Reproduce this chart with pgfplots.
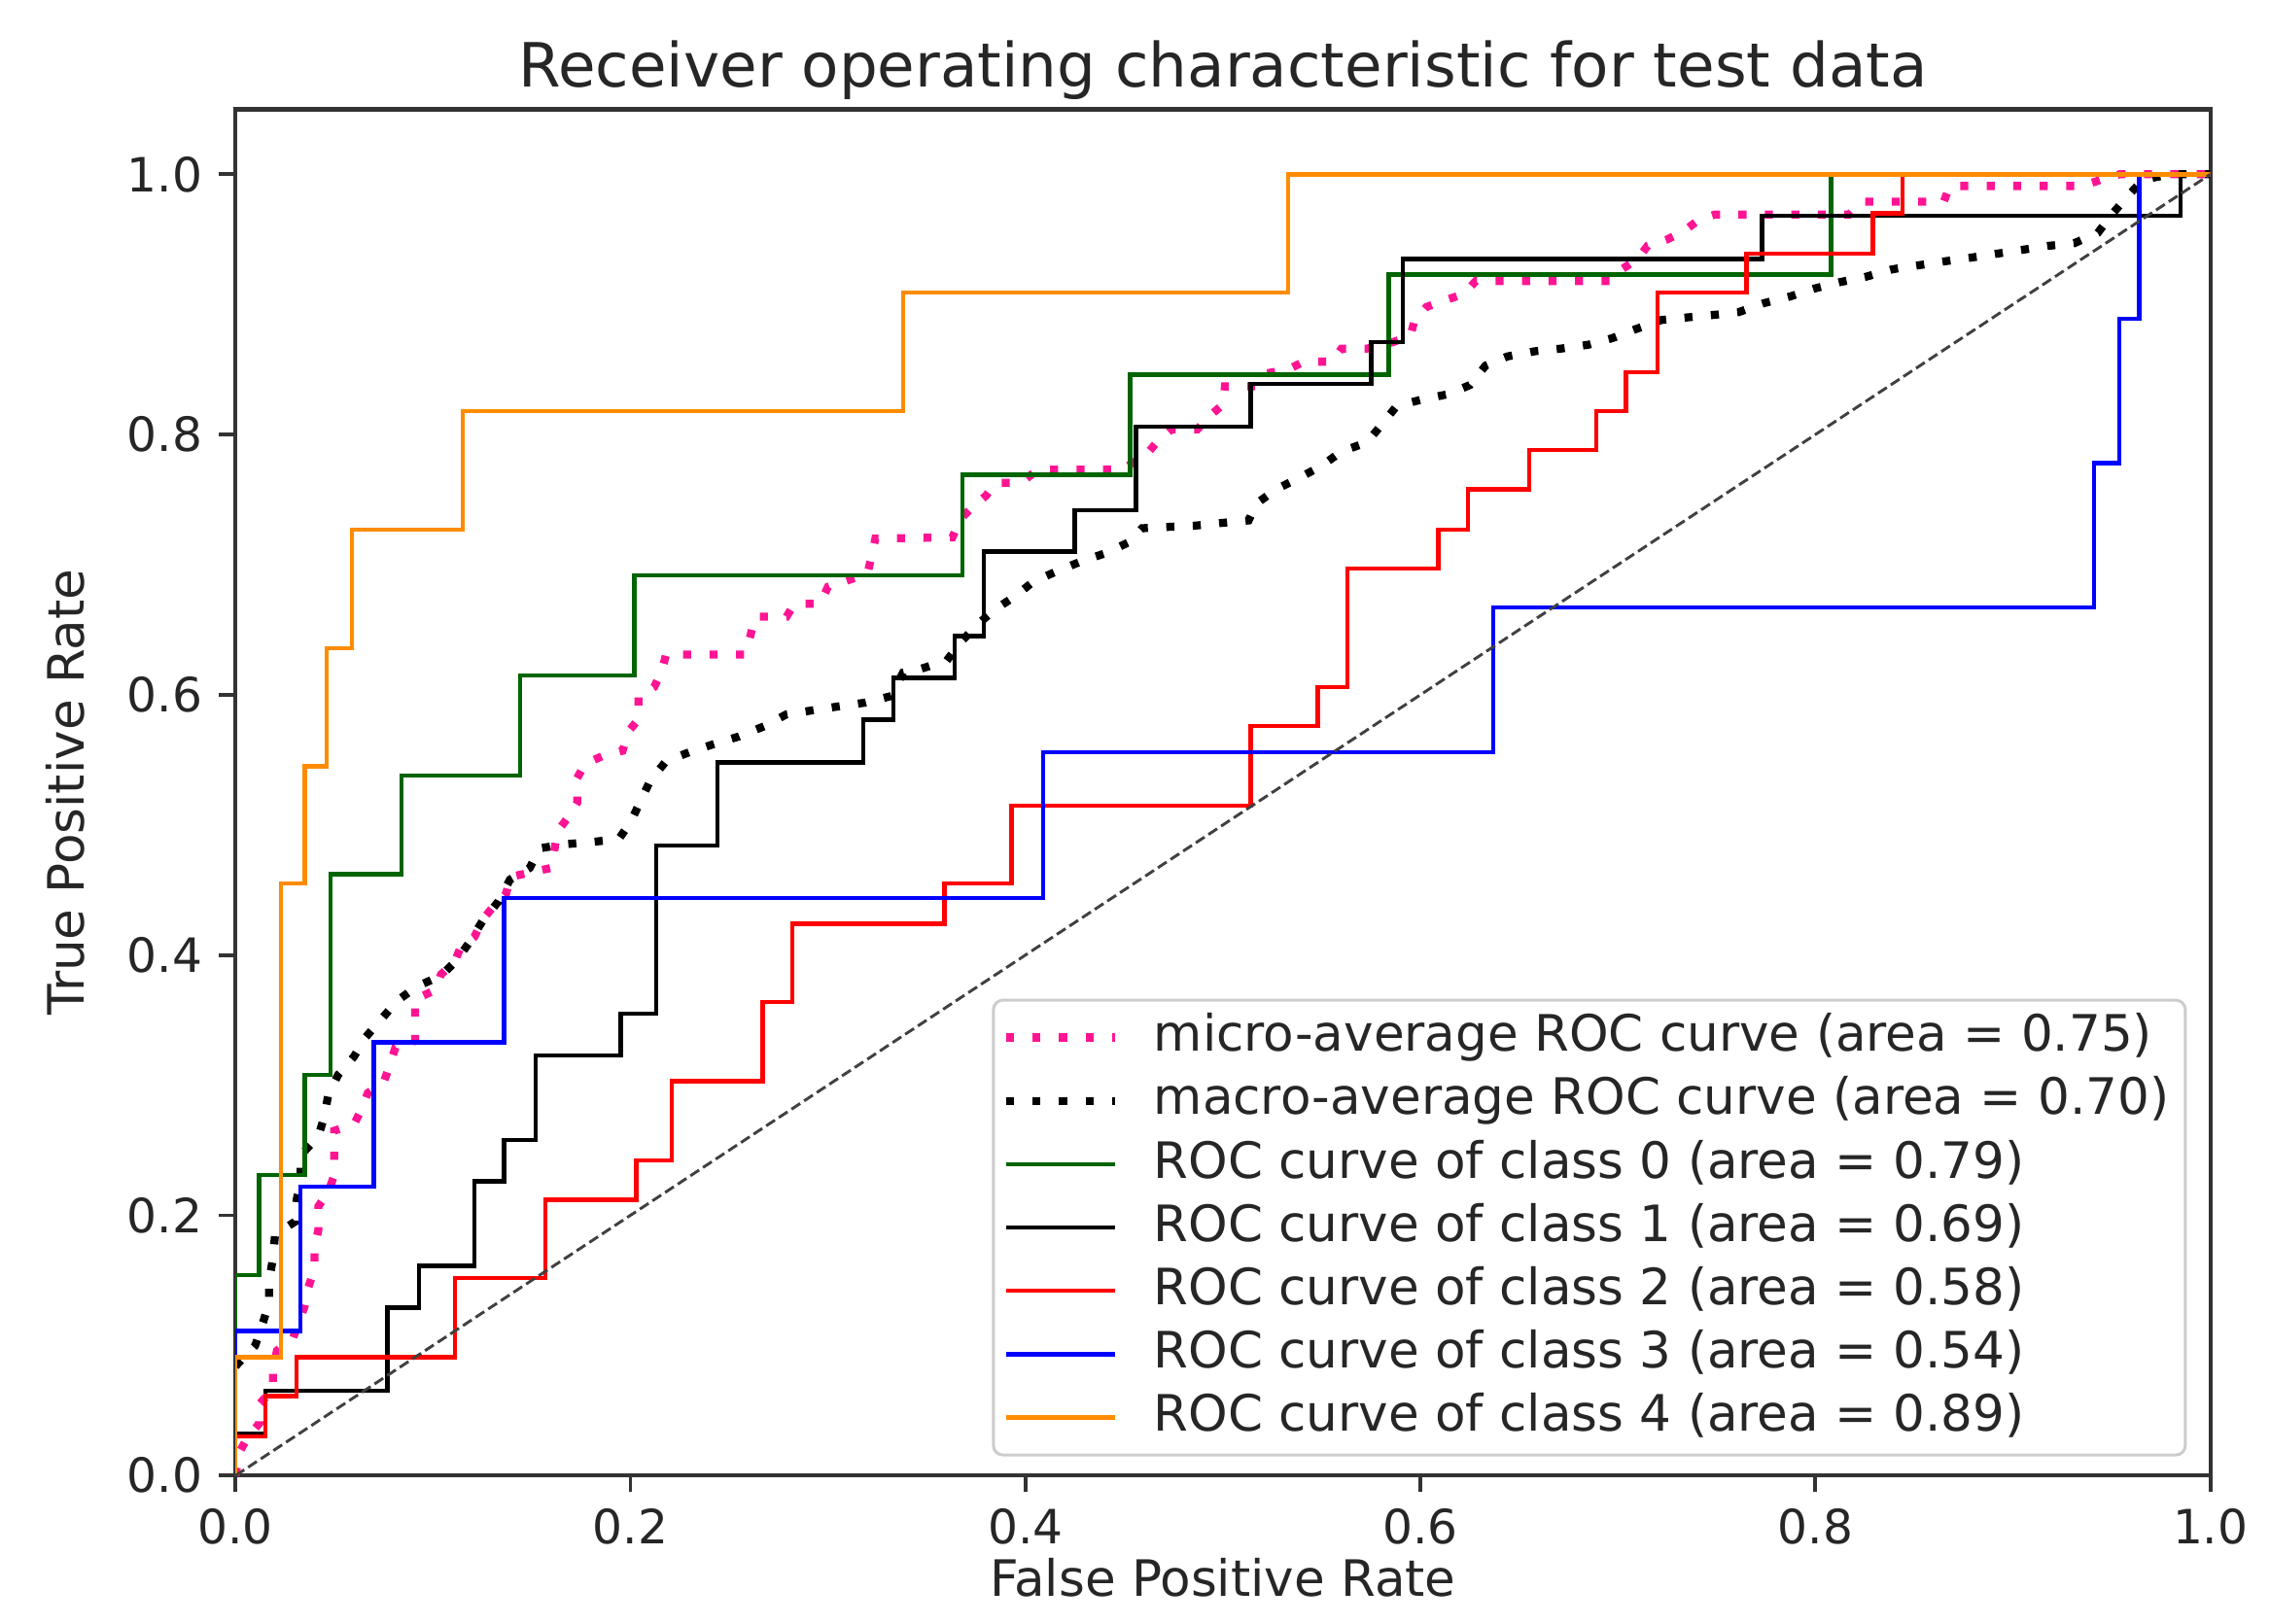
\documentclass[border=0pt]{standalone}
\usepackage{pgfplots}
\pgfplotsset{compat=1.18}
\usepackage{fontspec}
\setmainfont{DejaVu Sans}
\usetikzlibrary{calc}

\definecolor{deeppink}{HTML}{FF1493}
\definecolor{darkgreen}{HTML}{006400}
\definecolor{darkorange}{HTML}{FF8C00}
\definecolor{framegray}{HTML}{333333}
\definecolor{legendgray}{HTML}{CCCCCC}

\begin{document}
\begin{tikzpicture}
\begin{axis}[
    name=ax,
    scale only axis,
    width=417.6pt, height=289pt,
    xmin=0, xmax=1, ymin=0, ymax=1.05,
    xtick={0,0.2,0.4,0.6,0.8,1.0},
    ytick={0,0.2,0.4,0.6,0.8,1.0},
    tick align=outside,
    xtick pos=bottom, ytick pos=left,
    major tick length=3.5pt,
    every tick/.style={framegray, line width=0.8pt},
    axis line style={framegray, line width=0.9pt},
    /pgf/number format/assume math mode=true,
    /pgf/number format/.cd, fixed, fixed zerofill, precision=1,
    /pgfplots/.cd,
    ticklabel style={font=\fontsize{10}{12}\selectfont, text=black!85},
    title={Receiver operating characteristic for test data},
    every axis title shift=0pt,
    title style={at={(axis description cs:0.5,1)}, anchor=base, yshift=4.8pt,
                 font=\fontsize{12.9}{15}\selectfont, text=black!85},
    xlabel={False Positive Rate},
    xlabel style={at={(axis description cs:0.5,0)}, anchor=base, yshift=-25.5pt,
                  font=\fontsize{10.6}{12}\selectfont, text=black!85},
    ylabel={True Positive Rate},
    ylabel style={at={(axis description cs:-0.0766,0.5)}, anchor=base, rotate=0,
                  font=\fontsize{10.6}{12}\selectfont, text=black!85},
    legend cell align=left,
    legend style={at={(0.988,0.014)}, anchor=south east,
                  draw=legendgray, fill=white, fill opacity=0.8, text opacity=1,
                  rounded corners=2pt, line width=0.6pt,
                  font=\fontsize{10.6}{12}\selectfont, text=black!85,
                  nodes={text height=8pt, text depth=2.2pt, inner sep=1.6pt},
                  row sep=0pt, inner xsep=1.8pt, inner ysep=1.2pt},
    legend image code/.code={\draw[#1] (0pt,0pt) -- (23pt,0pt); \path (28.8pt,0pt);},
]

% micro-average
\addplot[deeppink, line width=1.7pt, dash pattern=on 1.7pt off 3.9pt] coordinates {
(0,0) (0.002,0.018) (0.006,0.029) (0.012,0.04) (0.012,0.055) (0.019,0.066)
(0.019,0.082) (0.021,0.096) (0.029,0.105) (0.035,0.13) (0.037,0.145) (0.04,0.159)
(0.04,0.176) (0.042,0.189) (0.042,0.207) (0.047,0.218) (0.05,0.231) (0.05,0.265)
(0.06,0.27) (0.064,0.282) (0.067,0.294) (0.075,0.302) (0.078,0.315) (0.081,0.329)
(0.091,0.334) (0.091,0.366) (0.101,0.373) (0.104,0.385) (0.111,0.395) (0.114,0.406)
(0.121,0.414) (0.125,0.427) (0.131,0.438) (0.137,0.447) (0.139,0.46) (0.16,0.467)
(0.163,0.495) (0.169,0.507) (0.173,0.517) (0.173,0.536) (0.177,0.547) (0.186,0.553)
(0.196,0.557) (0.199,0.572) (0.204,0.581) (0.204,0.599) (0.212,0.606) (0.216,0.619)
(0.218,0.631) (0.258,0.631) (0.261,0.647) (0.263,0.66) (0.279,0.66) (0.283,0.67)
(0.296,0.67) (0.3,0.683) (0.31,0.688) (0.32,0.693) (0.322,0.706) (0.324,0.72)
(0.363,0.721) (0.367,0.735) (0.373,0.744) (0.38,0.753) (0.385,0.763) (0.398,0.763)
(0.406,0.773) (0.449,0.773) (0.462,0.786) (0.467,0.795) (0.474,0.804) (0.487,0.804)
(0.493,0.814) (0.5,0.823) (0.501,0.837) (0.517,0.837) (0.522,0.847) (0.533,0.85)
(0.541,0.856) (0.555,0.856) (0.56,0.866) (0.573,0.866) (0.586,0.871) (0.595,0.876)
(0.597,0.888) (0.603,0.898) (0.612,0.903) (0.622,0.908) (0.628,0.918) (0.696,0.918)
(0.702,0.927) (0.71,0.935) (0.715,0.945) (0.725,0.95) (0.733,0.956) (0.741,0.965)
(0.749,0.969) (0.817,0.969) (0.823,0.979) (0.865,0.979) (0.868,0.991) (0.935,0.991)
(0.945,0.996) (0.954,1.0) (1,1)
};
\addlegendentry{micro-average ROC curve (area = 0.75)}

% macro-average
\addplot[black, line width=1.7pt, dash pattern=on 1.7pt off 3.9pt] coordinates {
(0,0.084) (0.01,0.1) (0.014,0.118) (0.017,0.133) (0.017,0.15) (0.019,0.167)
(0.02,0.185) (0.03,0.195) (0.031,0.212) (0.033,0.229) (0.033,0.246) (0.042,0.261)
(0.045,0.276) (0.047,0.293) (0.052,0.308) (0.06,0.322) (0.066,0.337) (0.074,0.351)
(0.082,0.365) (0.092,0.376) (0.104,0.384) (0.112,0.396) (0.119,0.411) (0.125,0.426)
(0.133,0.441) (0.139,0.458) (0.149,0.467) (0.154,0.482) (0.166,0.485) (0.181,0.487)
(0.194,0.489) (0.2,0.502) (0.205,0.518) (0.21,0.534) (0.218,0.549) (0.23,0.556)
(0.242,0.562) (0.255,0.568) (0.268,0.576) (0.279,0.585) (0.292,0.588) (0.305,0.591)
(0.319,0.594) (0.332,0.599) (0.338,0.617) (0.347,0.62) (0.36,0.626) (0.367,0.64)
(0.375,0.653) (0.384,0.665) (0.395,0.676) (0.404,0.687) (0.416,0.695) (0.429,0.703)
(0.441,0.709) (0.452,0.717) (0.459,0.728) (0.472,0.729) (0.486,0.73) (0.499,0.732)
(0.513,0.734) (0.517,0.747) (0.527,0.758) (0.539,0.767) (0.55,0.776) (0.56,0.787)
(0.573,0.794) (0.58,0.807) (0.588,0.822) (0.601,0.827) (0.614,0.831) (0.625,0.838)
(0.633,0.853) (0.644,0.86) (0.658,0.864) (0.671,0.866) (0.685,0.869) (0.697,0.874)
(0.709,0.881) (0.722,0.888) (0.735,0.89) (0.749,0.892) (0.761,0.894) (0.774,0.901)
(0.787,0.906) (0.799,0.912) (0.812,0.917) (0.825,0.921) (0.839,0.927) (0.852,0.93)
(0.865,0.933) (0.879,0.936) (0.892,0.939) (0.905,0.942) (0.918,0.945) (0.931,0.947)
(0.943,0.955) (0.95,0.969) (0.958,0.983) (0.966,0.996) (0.98,1.0) (1,1)
};
\addlegendentry{macro-average ROC curve (area = 0.70)}

% class 0
\addplot[darkgreen, line width=0.9pt] coordinates {
(0,0) (0,0.154) (0.012,0.154) (0.012,0.231) (0.035,0.231) (0.035,0.308)
(0.048,0.308) (0.048,0.462) (0.084,0.462) (0.084,0.538) (0.144,0.538) (0.144,0.615)
(0.202,0.615) (0.202,0.692) (0.368,0.692) (0.368,0.769) (0.453,0.769) (0.453,0.846)
(0.584,0.846) (0.584,0.923) (0.808,0.923) (0.808,1) (1,1)
};
\addlegendentry{ROC curve of class 0 (area = 0.79)}

% class 1
\addplot[black, line width=0.9pt] coordinates {
(0,0) (0,0.032) (0.015,0.032) (0.015,0.065) (0.077,0.065) (0.077,0.129)
(0.093,0.129) (0.093,0.161) (0.121,0.161) (0.121,0.226) (0.136,0.226) (0.136,0.258)
(0.152,0.258) (0.152,0.323) (0.195,0.323) (0.195,0.355) (0.213,0.355) (0.213,0.484)
(0.244,0.484) (0.244,0.548) (0.318,0.548) (0.318,0.581) (0.333,0.581) (0.333,0.613)
(0.364,0.613) (0.364,0.645) (0.379,0.645) (0.379,0.710) (0.425,0.710) (0.425,0.742)
(0.456,0.742) (0.456,0.806) (0.514,0.806) (0.514,0.839) (0.575,0.839) (0.575,0.871)
(0.591,0.871) (0.591,0.935) (0.773,0.935) (0.773,0.968) (0.985,0.968) (0.985,1) (1,1)
};
\addlegendentry{ROC curve of class 1 (area = 0.69)}

% class 2
\addplot[red, line width=0.9pt] coordinates {
(0,0) (0,0.030) (0.015,0.030) (0.015,0.061) (0.031,0.061) (0.031,0.091)
(0.111,0.091) (0.111,0.152) (0.157,0.152) (0.157,0.212) (0.203,0.212) (0.203,0.242)
(0.221,0.242) (0.221,0.303) (0.267,0.303) (0.267,0.364) (0.282,0.364) (0.282,0.424)
(0.359,0.424) (0.359,0.455) (0.393,0.455) (0.393,0.515) (0.514,0.515) (0.514,0.576)
(0.548,0.576) (0.548,0.606) (0.563,0.606) (0.563,0.697) (0.609,0.697) (0.609,0.727)
(0.624,0.727) (0.624,0.758) (0.655,0.758) (0.655,0.788) (0.689,0.788) (0.689,0.818)
(0.704,0.818) (0.704,0.848) (0.720,0.848) (0.720,0.909) (0.765,0.909) (0.765,0.939)
(0.829,0.939) (0.829,0.970) (0.844,0.970) (0.844,1) (1,1)
};
\addlegendentry{ROC curve of class 2 (area = 0.58)}

% class 3
\addplot[blue, line width=0.9pt] coordinates {
(0,0) (0,0.111) (0.033,0.111) (0.033,0.222) (0.07,0.222) (0.07,0.333)
(0.136,0.333) (0.136,0.444) (0.409,0.444) (0.409,0.556) (0.637,0.556) (0.637,0.667)
(0.941,0.667) (0.941,0.778) (0.954,0.778) (0.954,0.889) (0.964,0.889) (0.964,1) (1,1)
};
\addlegendentry{ROC curve of class 3 (area = 0.54)}

% class 4
\addplot[darkorange, line width=0.9pt] coordinates {
(0,0) (0,0.091) (0.023,0.091) (0.023,0.455) (0.035,0.455) (0.035,0.545)
(0.046,0.545) (0.046,0.636) (0.059,0.636) (0.059,0.727) (0.115,0.727) (0.115,0.818)
(0.338,0.818) (0.338,0.909) (0.533,0.909) (0.533,1) (1,1)
};
\addlegendentry{ROC curve of class 4 (area = 0.89)}

% chance line
\addplot[black!75, line width=0.6pt, dash pattern=on 2.2pt off 1pt, forget plot]
  coordinates {(0,0) (1,1)};

\end{axis}
\pgfresetboundingbox
\path[use as bounding box] ($(ax.south west)+(-49.8pt,-31.4pt)$) rectangle ($(ax.north east)+(12.6pt,23.1pt)$);
\end{tikzpicture}
\end{document}
